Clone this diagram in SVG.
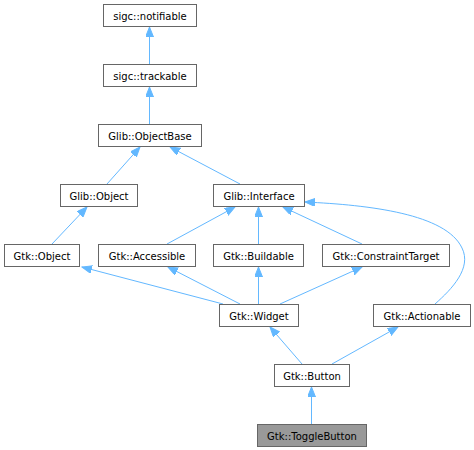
<svg xmlns="http://www.w3.org/2000/svg" width="474" height="450" viewBox="0 0 474 450">
<style>
.n rect{fill:#ffffff;stroke:#666666;stroke-width:1}
.n.cur rect{fill:#999999}
.n text{font-family:"DejaVu Sans",sans-serif;font-size:10px;fill:#000000;text-anchor:middle}
.e path{fill:none;stroke:#63b8ff;stroke-width:1;marker-end:url(#ah)}
</style>
<defs>
<marker id="ah" markerUnits="userSpaceOnUse" markerWidth="11" markerHeight="9" refX="10" refY="4" orient="auto" viewBox="0 0 11 9">
<path d="M0,0 L10,4 L0,8 z" fill="#63b8ff" stroke="#63b8ff" stroke-width="1"/>
</marker>
</defs>
<rect width="474" height="450" fill="#ffffff"/>
<g id="edges" class="e">
<path d="M149.5,64 L149.5,27"/>
<path d="M149.5,124 L149.5,87"/>
<path d="M107,184 L140,147"/>
<path d="M240,184 L170,147"/>
<path d="M52,244 L87,207"/>
<path d="M167,244 L235,207"/>
<path d="M258.5,244 L258.5,207"/>
<path d="M362,244 L283,207"/>
<path d="M435,304 C452,289 472,268 462,248 C446,214 370,205 305,202"/>
<path d="M223,304 L82,267"/>
<path d="M240,304 L168,267"/>
<path d="M258.5,304 L258.5,267"/>
<path d="M280,304 L362,267"/>
<path d="M302,364 L270,327"/>
<path d="M332,364 L398,327"/>
<path d="M311.5,424 L311.5,387"/>
</g>
<g id="n_notifiable" class="n"><rect x="103.5" y="4.5" width="93" height="22"/><text x="150" y="19.5">sigc::notifiable</text></g>
<g id="n_trackable" class="n"><rect x="103.5" y="64.5" width="93" height="22"/><text x="150" y="79.5">sigc::trackable</text></g>
<g id="n_objectbase" class="n"><rect x="98.5" y="124.5" width="103" height="22"/><text x="150" y="139.5">Glib::ObjectBase</text></g>
<g id="n_glibobject" class="n"><rect x="60.5" y="184.5" width="77" height="22"/><text x="99" y="199.5">Glib::Object</text></g>
<g id="n_interface" class="n"><rect x="213.5" y="184.5" width="91" height="22"/><text x="259" y="199.5">Glib::Interface</text></g>
<g id="n_gtkobject" class="n"><rect x="4.5" y="244.5" width="75" height="22"/><text x="42" y="259.5">Gtk::Object</text></g>
<g id="n_accessible" class="n"><rect x="98.5" y="244.5" width="97" height="22"/><text x="147" y="259.5">Gtk::Accessible</text></g>
<g id="n_buildable" class="n"><rect x="213.5" y="244.5" width="90" height="22"/><text x="258.5" y="259.5">Gtk::Buildable</text></g>
<g id="n_constraint" class="n"><rect x="322.5" y="244.5" width="127" height="22"/><text x="386" y="259.5">Gtk::ConstraintTarget</text></g>
<g id="n_widget" class="n"><rect x="219.5" y="304.5" width="79" height="22"/><text x="259" y="319.5">Gtk::Widget</text></g>
<g id="n_actionable" class="n"><rect x="373.5" y="304.5" width="97" height="22"/><text x="422" y="319.5">Gtk::Actionable</text></g>
<g id="n_button" class="n"><rect x="274.5" y="364.5" width="75" height="22"/><text x="312" y="379.5">Gtk::Button</text></g>
<g id="n_toggle" class="n cur"><rect x="257.5" y="424.5" width="109" height="22"/><text x="312" y="439.5">Gtk::ToggleButton</text></g>
</svg>
